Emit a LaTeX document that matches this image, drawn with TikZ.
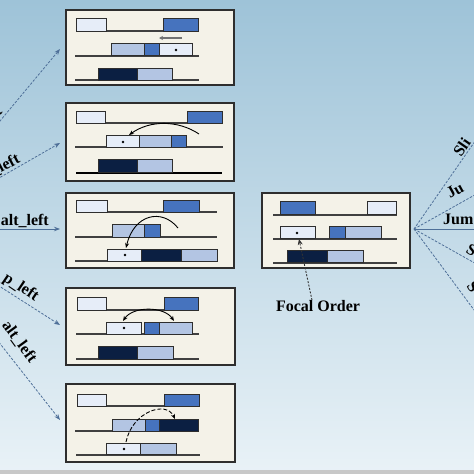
\documentclass[tikz,border=0pt]{standalone}
\usepackage{fontspec}
\setmainfont{Liberation Serif}
\usetikzlibrary{arrows.meta}
\definecolor{bgtop}{HTML}{9EC3D8}
\definecolor{bgbot}{HTML}{E9F2F7}
\definecolor{strip}{HTML}{C8C8C8}
\definecolor{panelfill}{HTML}{F4F2E8}
\definecolor{bord}{HTML}{2E2E2E}
\definecolor{lightb}{HTML}{E6EDF8}
\definecolor{midb}{HTML}{4673BE}
\definecolor{lmb}{HTML}{B3C5E3}
\definecolor{navy}{HTML}{0B1F42}
\definecolor{conn}{HTML}{4E6F98}
\newcommand\blk[5]{\filldraw[blkst,fill=#1] (#2,#3) rectangle (#4,#5);}
\newcommand\rowln[3]{\draw[rowst] (#1,#3) -- (#2,#3);}
\newcommand\fdot[2]{\fill[black] (#1,#2) circle (1.3);}
\begin{document}
\begin{tikzpicture}[x=1pt,y=-1pt,
  panel/.style={draw=bord,line width=1.5pt,fill=panelfill,anchor=north west,inner sep=0pt},
  blkst/.style={draw=bord,line width=0.9pt},
  rowst/.style={draw=black!75,line width=1.3pt},
  conline/.style={draw=conn,line width=0.8pt,dashed,dash pattern=on 2.5pt off 1.5pt},
  conarrow/.style={conline,-{Stealth[length=6pt,width=4.5pt]}},
  lbl/.style={font=\bfseries\fontsize{16}{18}\selectfont,text=black,inner sep=0pt},
  arcst/.style={draw=black,line width=0.9pt,-{Stealth[length=5pt,width=4pt]}}]
\useasboundingbox (0,0) rectangle (474,474);
\clip (0,0) rectangle (474,474);
\shade[top color=bgtop,bottom color=bgbot] (0,0) rectangle (474,474);
\fill[strip] (0,470) rectangle (474,474);

% panels
\node[panel,minimum width=168pt,minimum height=75pt] (p1) at (65,9) {};
\node[panel,minimum width=168pt,minimum height=78pt] (p2) at (65,102) {};
\node[panel,minimum width=168pt,minimum height=75pt] (p3) at (65,192) {};
\node[panel,minimum width=169pt,minimum height=77pt] (p4) at (65,287) {};
\node[panel,minimum width=169pt,minimum height=78pt] (p5) at (65,383) {};
\node[panel,minimum width=148pt,minimum height=75pt] (pc) at (261,192) {};

% panel 1
\rowln{76}{199}{31}
\blk{lightb}{76}{18}{106}{31}
\blk{midb}{163}{18}{198}{31}
\rowln{75}{199}{56}
\blk{lmb}{111}{43}{144}{55}
\blk{midb}{144}{43}{159}{55}
\blk{lightb}{159}{43}{192}{55}
\fdot{176}{50}
\coordinate (s1a) at (182,38);
\coordinate (s1b) at (159,38);
\draw[draw=black!55,line width=1.6pt,-{Stealth[length=4pt,width=4pt]}] (s1a) -- (s1b);
\rowln{75}{199}{80}
\blk{navy}{98}{68}{137}{80}
\blk{lmb}{137}{68}{172}{80}

% panel 2
\rowln{76}{222}{123}
\blk{lightb}{76}{111}{105}{123}
\blk{midb}{187}{111}{222}{123}
\rowln{75}{223}{147}
\blk{lightb}{106}{135}{139}{147}
\blk{lmb}{139}{135}{171}{147}
\blk{midb}{171}{135}{186}{147}
\fdot{123}{142}
\coordinate (a2s) at (199,134);
\coordinate (a2e) at (129,135);
\draw[arcst] (a2s) .. controls (178,120) and (150,120) .. (a2e);
\draw[draw=black,line width=1.6pt] (76,173) -- (222,173);
\blk{navy}{98}{159}{137}{172}
\blk{lmb}{137}{159}{172}{172}

% panel 3
\rowln{76}{217}{212}
\blk{lightb}{76}{200}{107}{212}
\blk{midb}{163}{200}{199}{212}
\rowln{75}{217}{237}
\blk{lmb}{112}{224}{144}{237}
\blk{midb}{144}{224}{160}{237}
\coordinate (a3s) at (178,228);
\coordinate (a3e) at (126,248);
\draw[arcst] (a3s) .. controls (162,208) and (134,214) .. (a3e);
\rowln{75}{217}{261}
\blk{lightb}{107}{249}{141}{261}
\blk{navy}{141}{249}{181}{261}
\blk{lmb}{181}{249}{217}{261}
\fdot{125}{255}

% panel 4
\rowln{77}{198}{310}
\blk{lightb}{77}{297}{106}{310}
\blk{midb}{164}{297}{198}{310}
\rowln{76}{199}{334}
\blk{lightb}{106}{322}{141}{334}
\blk{midb}{144}{322}{159}{334}
\blk{lmb}{159}{322}{192}{334}
\fdot{124}{328}
\coordinate (a4s) at (123,321);
\coordinate (a4e) at (174,321);
\draw[draw=black,line width=0.9pt,{Stealth[length=5pt,width=4pt]}-{Stealth[length=5pt,width=4pt]}] (a4s) .. controls (133,306) and (164,306) .. (a4e);
\rowln{76}{199}{359}
\blk{navy}{98}{346}{137}{359}
\blk{lmb}{137}{346}{173}{359}

% panel 5
\rowln{77}{199}{406}
\blk{lightb}{77}{394}{106}{406}
\blk{midb}{164}{394}{199}{406}
\rowln{75}{198}{431}
\blk{lmb}{112}{419}{145}{431}
\blk{midb}{145}{419}{159}{431}
\blk{navy}{159}{419}{198}{431}
\coordinate (a5s) at (126,442);
\coordinate (a5e) at (175,419);
\draw[arcst,dash pattern=on 4pt off 2pt] (a5s) .. controls (132,412) and (166,400) .. (a5e);
\rowln{76}{200}{455}
\blk{lightb}{106}{443}{140}{454}
\blk{lmb}{140}{443}{176}{454}
\fdot{124}{449}

% central panel
\rowln{273}{397}{215}
\blk{midb}{280}{201}{315}{214}
\blk{lightb}{367}{201}{396}{214}
\rowln{273}{397}{239}
\blk{lightb}{280}{226}{315}{238}
\blk{midb}{329}{226}{345}{238}
\blk{lmb}{345}{226}{381}{238}
\fdot{297}{233}
\rowln{273}{397}{263}
\blk{navy}{287}{250}{327}{262}
\blk{lmb}{327}{250}{363}{262}

\node[lbl] (fo) at (318,306) {Focal Order};
\coordinate (fp) at (299,239);
\draw[draw=black!80,line width=0.9pt,dash pattern=on 2pt off 1.5pt,-{Stealth[length=6pt,width=5pt]}] (fo.north) ++(-6,0) -- (fp);

% left connectors
\coordinate (lo) at (-90,229);
\coordinate (e1) at (60,49);
\coordinate (e2) at (60,143);
\coordinate (e3) at (60,229);
\coordinate (e4) at (60,325);
\coordinate (e5) at (60,420);
\draw[conarrow] (lo) -- (e1);
\draw[conarrow] (lo) -- (e2);
\draw[conarrow,solid] (lo) -- (e3);
\draw[conarrow] (lo) -- (e4);
\draw[conarrow] (lo) -- (e5);
\node[lbl,rotate=49,anchor=base east] (t1) at (3,112) {\_left};
\node[lbl,rotate=28,anchor=base east] (t2) at (21,162) {\_left};
\node[lbl,anchor=base east] (t3) at (49,225) {alt\_left};
\node[lbl,rotate=-34,anchor=base east] (t4) at (35,302) {p\_left};
\node[lbl,rotate=-54,anchor=base east] (t5) at (30,364) {alt\_left};

% right connectors
\coordinate (ro) at (414,229);
\coordinate (r1) at (480,134);
\coordinate (r2) at (480,192);
\coordinate (r3) at (480,229);
\coordinate (r4) at (480,266);
\coordinate (r5) at (480,318);
\draw[conline] (ro) -- (r1);
\draw[conline] (ro) -- (r2);
\draw[conline,solid] (ro) -- (r3);
\draw[conline] (ro) -- (r4);
\draw[conline] (ro) -- (r5);
\node[lbl,rotate=55,anchor=base west] (u1) at (461,158) {Sli};
\node[lbl,rotate=29,anchor=base west] (u2) at (450,199) {Ju};
\node[lbl,anchor=base west] (u3) at (443,224) {Jum};
\node[lbl,rotate=-29,anchor=base west] (u4) at (465,252) {S};
\node[lbl,rotate=-53,anchor=base west] (u5) at (466,286) {S};
\end{tikzpicture}
\end{document}
